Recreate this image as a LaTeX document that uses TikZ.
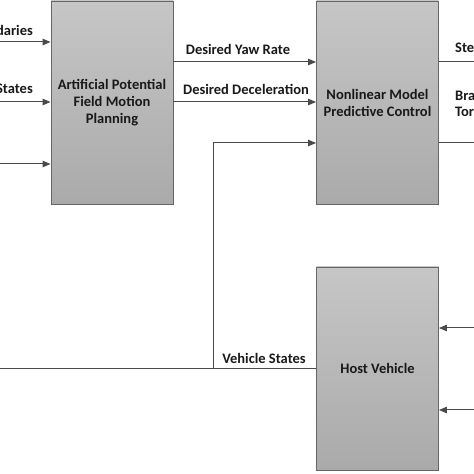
\documentclass[tikz,border=0pt]{standalone}
\usepackage{fontspec}
\setmainfont{Carlito}
\usetikzlibrary{arrows.meta,positioning}
\definecolor{boxtop}{HTML}{C6C6C6}
\definecolor{boxbot}{HTML}{AAAAAA}
\definecolor{wire}{HTML}{4A4A4A}
\tikzset{
  block/.style={draw=black!60, line width=0.9pt, top color=boxtop, bottom color=boxbot,
    minimum width=122pt, minimum height=203pt, align=center, inner sep=2pt,
    font=\bfseries\fontsize{14.5}{17}\selectfont, text=black!90},
  wireline/.style={draw=wire, line width=1pt},
  sig/.style={wireline, -{Triangle[length=8pt,width=6.5pt]}},
  lab/.style={font=\bfseries\fontsize{14.5}{16}\selectfont, text=black!90, inner sep=0pt},
}

\begin{document}
\begin{tikzpicture}[x=1pt,y=1pt]
        \clip (0,0) rectangle (474,474);
        \fill [white] (0,0) rectangle (474,474);

        % the three blocks
        \node [block] (apf) at (112,371.5) {Artificial Potential\\Field Motion\\Planning};
        \node [block] (nmpc) at (377.5,371.5) {Nonlinear Model\\Predictive Control};
        \node [block] (host) at (377.5,105.5) {Host Vehicle};

        % inputs of the planner
        \coordinate (in1) at (-20,432);
        \coordinate (in2) at (-20,372);
        \coordinate (in3) at (-20,310);
        \draw [sig] (in1) -- (in1 -| apf.west);
        \draw [sig] (in2) -- (in2 -| apf.west);
        \draw [sig] (in3) -- (in3 -| apf.west);
        \node [lab,anchor=base east] (roadlab) at (33,438) {Road Boundaries};
        \node [lab,anchor=base east] (obstlab) at (33,380) {Obstacle States};

        % planner to controller
        \coordinate (yaw) at (0,412);
        \coordinate (dec) at (0,372);
        \draw [sig] (apf.east |- yaw) -- (nmpc.west |- yaw);
        \draw [sig] (apf.east |- dec) -- (nmpc.west |- dec);
        \node [lab,anchor=base] (yawlab) at (238,419) {Desired Yaw Rate};
        \node [lab,anchor=base] (declab) at (246,379) {Desired Deceleration};

        % feedback of the vehicle states
        \coordinate (fbin) at (0,331);
        \coordinate (fbjoint) at (213,0);
        \coordinate (fbleft) at (-20,0);
        \draw [wireline] (host.west) -- (host.west -| fbleft);
        \draw [sig] (host.west -| fbjoint) -- (fbin -| fbjoint) -- (nmpc.west |- fbin);
        \node [lab,anchor=base] (vslab) at (264,110) {Vehicle States};

        % controller outputs
        \coordinate (outr) at (494,0);
        \draw [wireline] (nmpc.east |- yaw) -- (outr |- yaw);
        \draw [wireline] (nmpc.east |- fbin) -- (outr |- fbin);
        \node [lab,anchor=base west] (steerlab) at (455,421) {Steering Angle};
        \node [lab,anchor=base west,align=left] (brakelab) at (455,357) {Brake\\Torque};

        % inputs of the vehicle
        \coordinate (hin1) at (0,146);
        \coordinate (hin2) at (0,64);
        \draw [sig] (outr |- hin1) -- (host.east |- hin1);
        \draw [sig] (outr |- hin2) -- (host.east |- hin2);
\end{tikzpicture}
\end{document}
